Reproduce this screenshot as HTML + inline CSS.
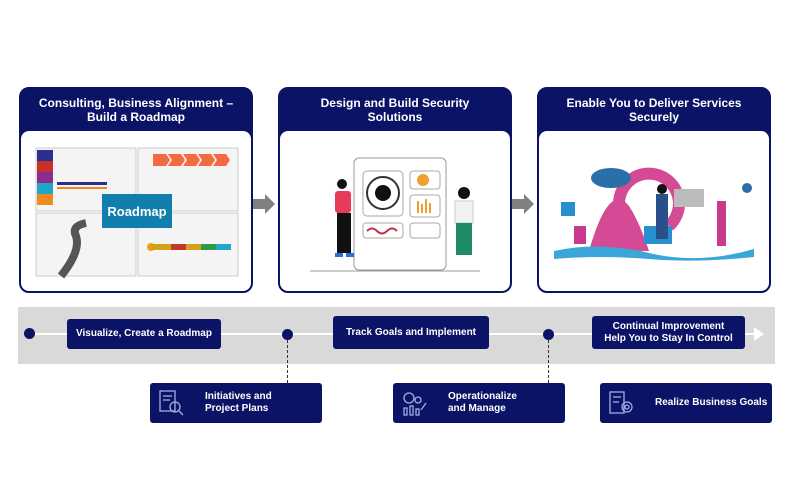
<!DOCTYPE html>
<html><head><meta charset="utf-8">
<style>
*{margin:0;padding:0;box-sizing:border-box}
body{width:800px;height:500px;background:#fff;position:relative;overflow:hidden;font-family:"Liberation Sans",sans-serif}
.panel{position:absolute;top:87px;width:234px;height:206px;background:#0b1366;border:1px solid #0b1366;border-radius:10px}
.panel .hd{height:43px;color:#fff;font-weight:bold;font-size:12px;text-align:center;line-height:14px;padding-top:8px}
.panel .bd{position:absolute;left:1px;right:1px;top:43px;bottom:1px;background:#fff;border-radius:8px;overflow:hidden}
.abs{position:absolute}
.nb{position:absolute;background:#0b1366;color:#fff;font-weight:bold;font-size:10px;text-align:center;border-radius:3px;display:flex;align-items:center;justify-content:center;line-height:12px}
.dot{position:absolute;width:11px;height:11px;border-radius:50%;background:#0b1366}
.vl{position:absolute;width:0;border-left:1px dashed #333}
.bb{position:absolute;background:#0b1366;color:#fff;font-weight:bold;font-size:10px;line-height:12px;border-radius:3px;height:40px}
</style></head><body>

<div class="panel" style="left:19px"><div class="hd">Consulting, Business Alignment –<br>Build a Roadmap</div>
<div class="bd">
<svg width="232" height="162" viewBox="0 0 232 162">
<rect x="15" y="17" width="100" height="63" fill="#f4f4f4" stroke="#ccc"/>
<rect x="117" y="17" width="100" height="63" fill="#f4f4f4" stroke="#ccc"/>
<rect x="15" y="82" width="100" height="63" fill="#f4f4f4" stroke="#ccc"/>
<rect x="117" y="82" width="100" height="63" fill="#f4f4f4" stroke="#ccc"/>
<rect x="16" y="19" width="16" height="11" fill="#2d2f8f"/><rect x="16" y="30" width="16" height="11" fill="#c9302c"/><rect x="16" y="41" width="16" height="11" fill="#8e2b8f"/><rect x="16" y="52" width="16" height="11" fill="#1ea7c9"/><rect x="16" y="63" width="16" height="11" fill="#f08a1c"/>
<rect x="36" y="51" width="50" height="3" fill="#2d2f8f"/><rect x="36" y="56" width="50" height="2" fill="#f08a1c"/>
<g fill="#f26a3d"><polygon points="132,23 145,23 149,29 145,35 132,35"/><polygon points="147,23 160,23 164,29 160,35 147,35 151,29"/><polygon points="162,23 175,23 179,29 175,35 162,35 166,29"/><polygon points="177,23 190,23 194,29 190,35 177,35 181,29"/><polygon points="192,23 205,23 209,29 205,35 192,35 196,29"/></g>
<path d="M40 145 Q60 120 55 105 Q50 95 65 92" stroke="#555" stroke-width="8" fill="none"/>
<g><circle cx="130" cy="116" r="4" fill="#e8a317"/><rect x="130" y="113" width="80" height="6" fill="#d4a017"/><rect x="150" y="113" width="15" height="6" fill="#c0392b"/><rect x="180" y="113" width="15" height="6" fill="#2e9a48"/><rect x="195" y="113" width="15" height="6" fill="#1ea7c9"/></g>
<rect x="81" y="63" width="70" height="34" fill="#117fad"/>
<text x="116" y="85" text-anchor="middle" fill="#fff" font-size="13" font-weight="bold" font-family="Liberation Sans">Roadmap</text>
</svg></div></div>

<div class="panel" style="left:278px"><div class="hd">Design and Build Security<br>Solutions</div>
<div class="bd">
<svg width="232" height="162" viewBox="0 0 232 162">
<rect x="74" y="27" width="92" height="112" rx="5" fill="#fff" stroke="#999"/>
<rect x="83" y="40" width="40" height="45" rx="4" fill="#fff" stroke="#aaa"/>
<rect x="130" y="40" width="30" height="18" rx="3" fill="#fff" stroke="#aaa"/>
<rect x="130" y="64" width="30" height="22" rx="3" fill="#fff" stroke="#aaa"/>
<rect x="83" y="92" width="40" height="15" rx="3" fill="#fff" stroke="#aaa"/>
<rect x="130" y="92" width="30" height="15" rx="3" fill="#fff" stroke="#aaa"/>
<circle cx="103" cy="62" r="16" fill="#fff" stroke="#333" stroke-width="2"/><circle cx="103" cy="62" r="8" fill="#111"/>
<circle cx="143" cy="49" r="6" fill="#f0a030"/>
<g fill="#f0a030"><rect x="137" y="70" width="2" height="12"/><rect x="141" y="73" width="2" height="9"/><rect x="145" y="68" width="2" height="14"/><rect x="149" y="72" width="2" height="10"/></g>
<path d="M87 100 q5 -5 10 0 t10 0 t10 0" stroke="#c0304a" fill="none" stroke-width="2"/>
<rect x="55" y="60" width="16" height="22" rx="3" fill="#e83a5b"/><circle cx="62" cy="53" r="5" fill="#111"/>
<rect x="57" y="82" width="14" height="40" fill="#111"/><rect x="55" y="122" width="8" height="4" fill="#2a6fd6"/><rect x="66" y="122" width="8" height="4" fill="#2a6fd6"/>
<rect x="175" y="70" width="18" height="22" fill="#f2f2f2" stroke="#ccc"/><circle cx="184" cy="62" r="6" fill="#111"/>
<rect x="176" y="92" width="16" height="32" fill="#1f8a6a"/>
<line x1="30" y1="140" x2="200" y2="140" stroke="#999"/>
</svg></div></div>

<div class="panel" style="left:537px"><div class="hd">Enable You to Deliver Services<br>Securely</div>
<div class="bd">
<svg width="232" height="162" viewBox="0 0 232 162">
<path d="M80 72 A30 30 0 1 1 130 95" stroke="#d44a94" stroke-width="12" fill="none"/>
<ellipse cx="72" cy="47" rx="20" ry="10" fill="#2a6fa8"/>
<path d="M50 120 Q70 50 90 75 Q100 90 110 120 Z" fill="#d44a94"/>
<rect x="22" y="71" width="14" height="14" fill="#2a8fd0"/>
<rect x="105" y="95" width="28" height="18" fill="#2a8fd0"/>
<rect x="135" y="58" width="30" height="18" fill="#bbb"/>
<rect x="117" y="63" width="12" height="45" fill="#2a4f8a"/><circle cx="123" cy="58" r="5" fill="#111"/>
<rect x="178" y="70" width="9" height="45" fill="#c93a8e"/>
<rect x="35" y="95" width="12" height="18" fill="#c93a8e"/>
<path d="M15 120 Q60 110 110 122 T215 118 L215 126 Q160 132 110 128 T15 128Z" fill="#3aa7d8"/>
<circle cx="208" cy="57" r="5" fill="#2a6fa8"/>
</svg></div></div>

<svg class="abs" style="left:253px;top:194px" width="24" height="20"><polygon points="0,5 12,5 12,0 22,10 12,20 12,15 0,15" fill="#808080"/></svg>
<svg class="abs" style="left:512px;top:194px" width="24" height="20"><polygon points="0,5 12,5 12,0 22,10 12,20 12,15 0,15" fill="#808080"/></svg>

<div class="abs" style="left:18px;top:307px;width:757px;height:57px;background:#d9d9d9"></div>
<div class="abs" style="left:29px;top:333px;width:728px;height:2px;background:#fff"></div>
<svg class="abs" style="left:754px;top:327px" width="12" height="14"><polygon points="0,0 10,7 0,14" fill="#fff"/></svg>
<div class="dot" style="left:24px;top:328px"></div>
<div class="dot" style="left:282px;top:329px"></div>
<div class="dot" style="left:543px;top:329px"></div>
<div class="vl" style="left:287px;top:340px;height:43px"></div>
<div class="vl" style="left:548px;top:340px;height:43px"></div>

<div class="nb" style="left:67px;top:319px;width:154px;height:30px">Visualize, Create a Roadmap</div>
<div class="nb" style="left:333px;top:316px;width:156px;height:33px">Track Goals and Implement</div>
<div class="nb" style="left:592px;top:316px;width:153px;height:33px">Continual Improvement<br>Help You to Stay In Control</div>

<div class="bb" style="left:150px;top:383px;width:172px"><svg class="abs" style="left:8px;top:7px" width="26" height="26" fill="none" stroke="#9fb0e0" stroke-width="1.3"><rect x="2" y="1" width="15" height="20"/><line x1="5" y1="6" x2="14" y2="6"/><line x1="5" y1="10" x2="12" y2="10"/><circle cx="17" cy="17" r="5"/><line x1="21" y1="21" x2="25" y2="25"/></svg><div class="abs" style="left:55px;top:8px">Initiatives and<br>Project Plans</div></div>
<div class="bb" style="left:393px;top:383px;width:172px"><svg class="abs" style="left:8px;top:7px" width="26" height="26" fill="none" stroke="#9fb0e0" stroke-width="1.3"><circle cx="8" cy="8" r="5"/><circle cx="17" cy="10" r="3"/><rect x="3" y="18" width="3" height="7"/><rect x="9" y="16" width="3" height="9"/><rect x="15" y="19" width="3" height="6"/><path d="M20 20 L25 13"/></svg><div class="abs" style="left:55px;top:8px">Operationalize<br>and Manage</div></div>
<div class="bb" style="left:600px;top:383px;width:172px"><svg class="abs" style="left:8px;top:7px" width="26" height="26" fill="none" stroke="#9fb0e0" stroke-width="1.3"><rect x="2" y="2" width="14" height="21"/><line x1="5" y1="7" x2="13" y2="7"/><line x1="5" y1="12" x2="11" y2="12"/><circle cx="19" cy="17" r="5"/><circle cx="19" cy="17" r="2"/></svg><div class="abs" style="left:55px;top:14px">Realize Business Goals</div></div>

</body></html>
